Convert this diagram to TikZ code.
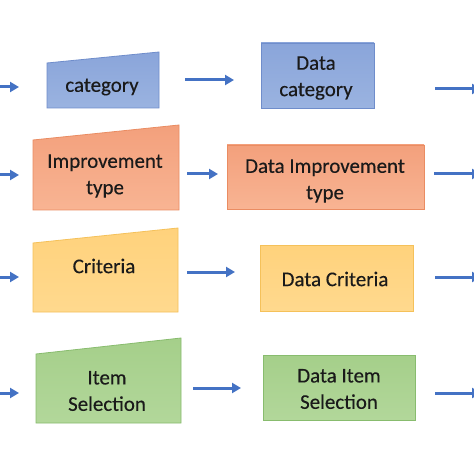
\documentclass[tikz,border=0pt]{standalone}
\usepackage{fontspec}
\setmainfont{Carlito}[FakeBold=0.3]
\usetikzlibrary{arrows.meta}
\definecolor{arrblue}{HTML}{4472C4}
\definecolor{bluefillA}{HTML}{8AA5DA}
\definecolor{bluefillB}{HTML}{9AB3E0}
\definecolor{blueline}{HTML}{6F8DCB}
\definecolor{orfillA}{HTML}{F3A07C}
\definecolor{orfillB}{HTML}{F8B493}
\definecolor{orline}{HTML}{EA8C62}
\definecolor{yefillA}{HTML}{FFD27C}
\definecolor{yefillB}{HTML}{FFD98E}
\definecolor{yeline}{HTML}{F5C15A}
\definecolor{grfillA}{HTML}{A5CF8A}
\definecolor{grfillB}{HTML}{B2D79A}
\definecolor{grline}{HTML}{88BC6E}
\definecolor{txt}{HTML}{1A1A1A}
\tikzset{
  arr/.style={draw=arrblue, line width=3bp, -{Triangle[length=9bp,width=10bp]}},
  bluebox/.style={draw=blueline, line width=0.8bp, top color=bluefillA, bottom color=bluefillB},
  orbox/.style={draw=orline, line width=0.8bp, top color=orfillA, bottom color=orfillB},
  yebox/.style={draw=yeline, line width=0.8bp, top color=yefillA, bottom color=yefillB},
  grbox/.style={draw=grline, line width=0.8bp, top color=grfillA, bottom color=grfillB},
  lbl/.style={text=txt, align=center, inner sep=0pt, font=\fontsize{21}{26.5}\selectfont}
}
\begin{document}
\begin{tikzpicture}[x=1bp,y=-1bp]
\useasboundingbox (0,0) rectangle (474,474);
\clip (0,0) rectangle (474,474);
\fill[white] (0,0) rectangle (474,474);

% ---- Row 1 (blue)
\draw[bluebox] (47,63) -- (159,52) -- (159,108) -- (47,108) -- cycle;
\node[lbl] (cat) at (102,87) {category};
\draw[bluebox] (261,43) rectangle (374,108);
\node[lbl] (dcat) at (316,78) {Data\\category};

% ---- Row 2 (orange)
\draw[orbox] (33,140) -- (179,125) -- (179,210) -- (33,210) -- cycle;
\node[lbl] (imp) at (105,176) {Improvement\\type};
\draw[orbox] (227,145) rectangle (424,209);
\node[lbl] (dimp) at (325,181) {Data Improvement\\type};

% ---- Row 3 (yellow)
\draw[yebox] (33,243) -- (178,228) -- (178,312) -- (33,312) -- cycle;
\node[lbl] (cri) at (104,266) {Criteria};
\draw[yebox] (260,245) rectangle (413,311);
\node[lbl] (dcri) at (335,279) {Data Criteria};

% ---- Row 4 (green)
\draw[grbox] (36,354) -- (181,338) -- (181,423) -- (36,423) -- cycle;
\node[lbl] (item) at (107,391) {Item\\Selection};
\draw[grbox] (263,355) rectangle (415,420);
\node[lbl] (ditem) at (339,389) {Data Item\\Selection};

% ---- arrows
\coordinate (l1s) at (0,87);   \coordinate (l1e) at (19,87);
\coordinate (l2s) at (0,175);  \coordinate (l2e) at (19,175);
\coordinate (l3s) at (0,277);  \coordinate (l3e) at (19,277);
\coordinate (l4s) at (0,393);  \coordinate (l4e) at (19,393);
\coordinate (m1s) at (185,80);  \coordinate (m1e) at (234,80);
\coordinate (m2s) at (187,174); \coordinate (m2e) at (218,174);
\coordinate (m3s) at (187,272); \coordinate (m3e) at (235,272);
\coordinate (m4s) at (193,388); \coordinate (m4e) at (241,388);
\coordinate (r1s) at (435,89);  \coordinate (r1e) at (481,89);
\coordinate (r2s) at (434,174); \coordinate (r2e) at (481,174);
\coordinate (r3s) at (435,277); \coordinate (r3e) at (481,277);
\coordinate (r4s) at (435,393); \coordinate (r4e) at (481,393);
\foreach \a in {l1,l2,l3,l4,m1,m2,m3,m4,r1,r2,r3,r4}
  \draw[arr] (\a s) -- (\a e);
\end{tikzpicture}
\end{document}
